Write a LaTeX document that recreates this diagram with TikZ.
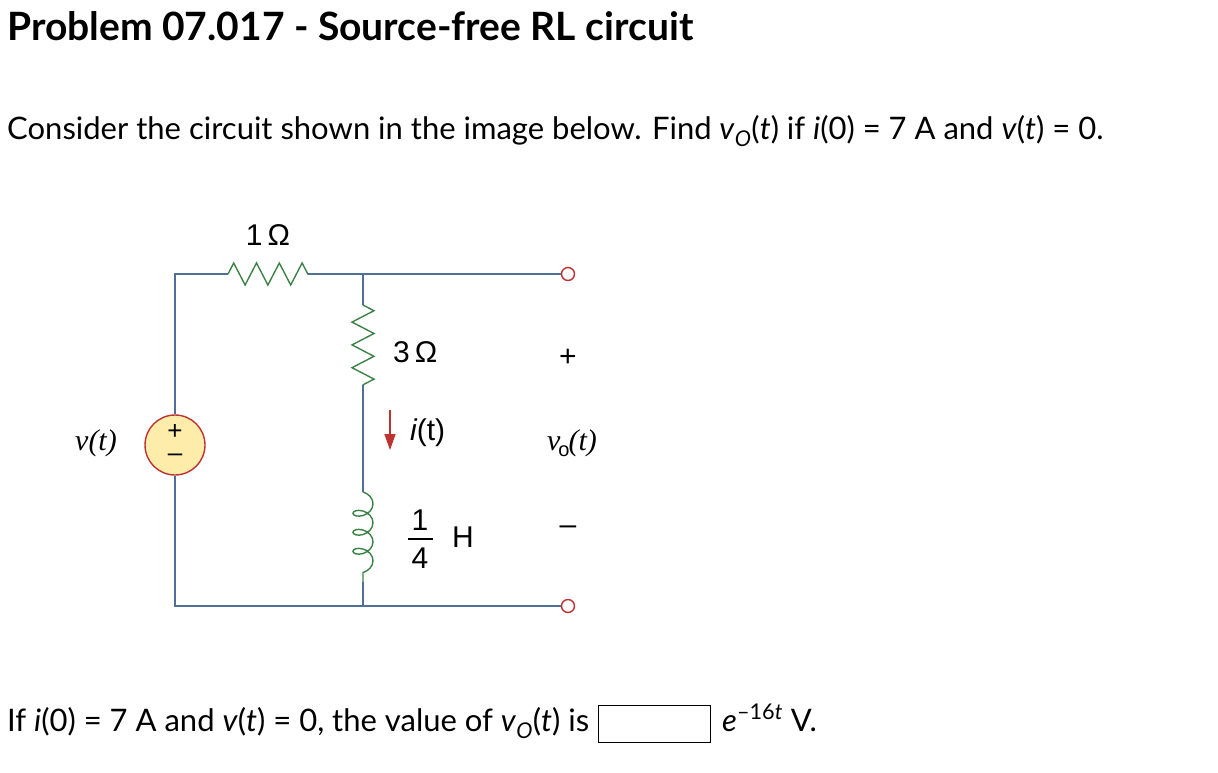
\documentclass[tikz,border=0pt]{standalone}
\usepackage{fontspec}
\setmainfont{Lato}
\newfontfamily\lbl{Liberation Sans}
\newfontfamily\serifit{Liberation Serif}
\usetikzlibrary{decorations.pathmorphing,arrows.meta}
\definecolor{wire}{RGB}{80,110,150}
\definecolor{comp}{RGB}{60,130,70}
\definecolor{redc}{RGB}{190,50,50}
\definecolor{srcfill}{RGB}{253,236,170}
\begin{document}
\begin{tikzpicture}[x=1pt,y=-1pt,
  w/.style={draw=wire,line width=1.6pt},
  res/.style={draw=comp,line width=1.4pt,decorate,decoration={zigzag,amplitude=11pt,segment length=22.8pt}},
  ind/.style={draw=comp,line width=1.4pt,decorate,decoration={coil,aspect=0.7,amplitude=10pt,segment length=19pt}},
  term/.style={circle,draw=redc,line width=1.4pt,fill=white,minimum size=13pt,inner sep=0pt},
  lab/.style={font=\lbl\fontsize{30}{32}\selectfont,inner sep=0pt},
  txt/.style={anchor=base west,inner sep=0pt,font=\fontsize{31}{34}\selectfont}]
\useasboundingbox (0,0) rectangle (1218,772);
\node[anchor=base west,inner sep=0pt,font=\bfseries\fontsize{39}{42}\selectfont] (title) at (7,40) {Problem 07.017 - Source-free RL circuit};
\node[txt] (q) at (7,139) {Consider the circuit shown in the image below. Find \textit{v}\textsubscript{\itshape O}(\textit{t}) if \textit{i}(0) = 7 A and \textit{v}(\textit{t}) = 0.};
% nodes
\coordinate (tl) at (175,274);
\coordinate (bl) at (175,606);
\coordinate (tm) at (363,274);
\coordinate (bm) at (363,606);
\coordinate (r1a) at (228,274);
\coordinate (r1b) at (308,274);
\coordinate (r2a) at (363,305);
\coordinate (r2b) at (363,385);
\coordinate (la) at (363,492);
\coordinate (lb) at (363,582);
\node[term] (t1) at (568,274) {};
\node[term] (t2) at (568,606) {};
\node[circle,draw=redc,fill=srcfill,line width=1.4pt,minimum size=60pt,inner sep=0pt] (src) at (175,445) {};
\node[font=\lbl\fontsize{26}{26}\selectfont,inner sep=0pt] (sp) at (175,432) {+};
\node[font=\lbl\fontsize{26}{26}\selectfont,inner sep=0pt] (sm) at (175,458) {\textendash};
% wires
\draw[w] (src.north) -- (tl) -- (r1a);
\draw[w] (r1b) -- (t1.west);
\draw[w] (tm) -- (r2a);
\draw[w] (r2b) -- (la);
\draw[w] (lb) -- (bm);
\draw[w] (src.south) -- (bl) -- (t2.west);
\draw[res] (r1a) -- (r1b);
\draw[res] (r2a) -- (r2b);
\draw[ind] (la) -- (lb);
% arrow
\coordinate (aa) at (390,410);
\coordinate (ab) at (390,450);
\draw[draw=redc,line width=1.6pt,-{Triangle[length=16pt,width=11pt]}] (aa) -- (ab);
% labels
\node[lab] (l1) at (268,235) {1\,Ω};
\node[lab,anchor=west] (l3) at (393,352) {3\,Ω};
\node[lab,anchor=west] (li) at (410,433) {\itshape i\upshape(t)};
\node[lab] (lf1) at (420,520) {1};
\node[lab] (lf4) at (420,558) {4};
\coordinate (fa) at (408,539);
\coordinate (fb) at (433,539);
\draw[line width=1.2pt] (fa) -- (fb);
\node[lab] (lh) at (463,537) {H};
\node[lab] (lp) at (568,358) {+};
\node[lab] (lm) at (568,530) {\textendash};
\node[font=\serifit\itshape\fontsize{30}{32}\selectfont,inner sep=0pt] (lv) at (96,443) {v(t)};
\node[font=\serifit\itshape\fontsize{30}{32}\selectfont,inner sep=0pt] (lvo) at (572,443) {v\kern-2pt\raisebox{-6pt}{\lbl\upshape\fontsize{20}{20}\selectfont o}\kern-1pt(t)};
% answer line
\node[txt] (ans) at (7,731) {If \textit{i}(0) = 7 A and \textit{v}(\textit{t}) = 0, the value of \textit{v}\textsubscript{\itshape O}(\textit{t}) is};
\node[draw=black,line width=1pt,minimum width=112pt,minimum height=37pt,inner sep=0pt,anchor=north west] (box) at (598,705) {};
\node[txt] (ex) at (722,731) {\textit{e}\textsuperscript{\raisebox{2pt}{\textendash16\textit{t}}} V.};
\end{tikzpicture}
\end{document}
